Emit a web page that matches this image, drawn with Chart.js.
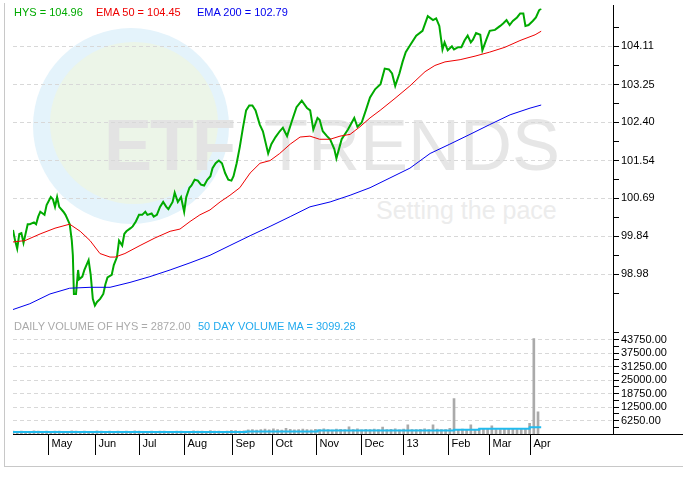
<!DOCTYPE html>
<html><head><meta charset="utf-8">
<script src="https://cdn.jsdelivr.net/npm/chart.js@4"></script>
<style>
body{margin:0;background:#fff;width:683px;height:482px;overflow:hidden;font-family:'Liberation Sans',Arial,sans-serif;}
.abs{position:absolute;}
.lg{position:absolute;font-size:11px;white-space:nowrap;}
</style></head><body>
<div class="abs" style="left:4px;top:3px;width:679px;height:463px;border-left:1px solid #c8c8c8;border-bottom:1px solid #c8c8c8;"></div>
<div class="abs" style="left:33px;top:28px;width:196px;height:196px;border-radius:50%;background:#e4f3fb;"></div>
<div class="abs" style="left:50px;top:42px;width:168px;height:162px;border-radius:50%;background:#ecf5e8;"></div>
<div class="abs" style="left:104px;top:104px;font-size:72px;font-weight:bold;color:#e3e3e3;letter-spacing:-2px;">ETF</div>
<div class="abs" style="left:264px;top:104px;font-size:72px;color:#e6e6e6;letter-spacing:0px;">TRENDS</div>
<div class="abs" style="left:376px;top:196px;font-size:25px;color:#ececec;">Setting the pace</div>
<canvas id="c1" class="abs" style="left:0;top:0;"></canvas>
<canvas id="c2" class="abs" style="left:0;top:318px;"></canvas>
<div class="abs" style="left:613px;top:5px;width:1px;height:429px;background:#000;"></div>
<div class="abs" style="left:13px;top:434px;width:670px;height:1px;background:#000;"></div>
<div class="lg" style="left:14px;top:6px;color:#00aa00;">HYS = 104.96</div>
<div class="lg" style="left:96px;top:6px;color:#ee0000;">EMA 50 = 104.45</div>
<div class="lg" style="left:197px;top:6px;color:#0000ee;">EMA 200 = 102.79</div>
<div class="lg" style="left:14px;top:320px;color:#aaaaaa;">DAILY VOLUME OF HYS = 2872.00</div>
<div class="lg" style="left:198px;top:320px;color:#22aaee;">50 DAY VOLUME MA = 3099.28</div>
<script>
// trading-day index and values
const hysDays=[0,1,2,3,4,5,7,8,10,11,12,13,15,16,18,19,20,21,22,24,25,27,28,28.5,29,30,31,31.5,33,34,36,37,38,39,40,41.5,43,44,45,47,48,49.5,50.5,52,53,54,56,57,58.5,60,61.5,63,64,66,67,68.5,70,71.5,73,74,76,77,78.5,80,81.5,82.5,84,85,86.5,88,89.5,91,92.5,94,95,96.5,98,99.5,101,102.5,104,105,106.5,108,109.5,111,112.5,114,115.5,117.5,119,121.5,123,125,127,128.5,130.5,133,135,137.5,140,141.5,143,145,146,147.5,149.5,151,153,154,156.5,159.5,162.5,164,166,168,170,172.5,175,177,179,180.5,182,184,185.5,187,189,192,195,197.5,200,201.5,203,204.5,205.5,207,209,210,212,213.5,215,216.5,218,219,220.5,222.5,223.5,225.5,227,229.5,232,233.5,235,236.5,238,240,241.5,243,244,245.5,247.5,249,250.5,251.5];
const hysVals=[99.98,99.74,99.56,99.89,99.91,99.69,100.11,100.11,100.15,100.11,100.28,100.39,100.32,100.54,100.72,100.67,100.50,100.72,100.50,100.39,100.32,100.11,99.74,99.41,98.54,98.54,99.08,98.87,98.93,99.08,99.30,98.97,98.43,98.28,98.36,98.43,98.54,98.76,98.91,98.97,99.19,99.37,99.74,99.63,99.89,99.95,100.02,100.06,100.17,100.32,100.32,100.39,100.32,100.35,100.28,100.32,100.50,100.61,100.50,100.45,100.61,100.82,100.61,100.72,100.39,100.72,100.93,100.98,101.11,101.09,101.00,100.98,101.11,101.19,101.37,101.48,101.54,101.48,101.26,101.11,101.09,101.19,101.48,101.85,102.28,102.67,102.78,102.78,102.67,102.35,102.20,101.70,101.91,102.07,102.20,102.28,102.09,102.46,102.74,102.89,102.72,102.67,102.24,102.50,102.46,102.20,102.09,102.02,101.80,101.59,102.02,102.24,102.50,102.30,102.39,102.67,102.96,103.15,103.26,103.61,103.59,103.50,103.22,103.50,103.76,103.98,104.13,104.35,104.46,104.79,104.70,104.74,104.57,104.04,104.20,104.02,104.11,104.04,104.09,104.09,104.24,104.35,104.20,104.26,104.41,104.37,104.02,104.28,104.46,104.48,104.57,104.63,104.70,104.59,104.68,104.76,104.85,104.85,104.57,104.59,104.68,104.76,104.92,104.96];
const ema50Days=[0,5.7,12.9,20,27,32,36.7,41.4,46.2,48.6,53.3,60.5,67.6,74.8,79.5,84.3,89,93.8,98.6,103.3,108,112.9,117.6,122.4,127,132,136.7,141.4,146,151,155.7,160.5,165.2,170,174.8,181.9,189,196.2,200.9,205.7,212.9,220,227,234.3,241.4,248.6,251.5];
const ema50Vals=[99.71,99.74,99.89,100.02,100.11,99.95,99.74,99.45,99.37,99.37,99.45,99.63,99.80,99.95,100.00,100.17,100.32,100.43,100.61,100.76,100.93,101.26,101.48,101.54,101.70,101.91,102.07,102.09,102.02,102.02,102.09,102.13,102.30,102.50,102.67,102.94,103.22,103.54,103.68,103.76,103.81,103.89,103.98,104.09,104.24,104.37,104.45];
const ema200Days=[0,8,17.6,27,36.7,46.2,55.7,65.2,74.8,84.3,93.8,103.3,112.9,122.4,132,141.4,151,160.5,170,179.5,189,198.6,208,217.6,227,236.7,246.2,251.5];
const ema200Vals=[98.19,98.32,98.54,98.67,98.69,98.69,98.80,98.93,99.08,99.24,99.41,99.63,99.85,100.06,100.28,100.50,100.61,100.76,100.93,101.15,101.37,101.70,101.91,102.13,102.35,102.57,102.72,102.79];
const priceTicks=[98.98,99.84,100.69,101.54,102.40,103.25,104.11];
const volTicks=[6250,12500,18750,25000,31250,37500,43750];
// volume every second trading day (0,2,...,250)
const volVals=[1300,1200,1400,1100,1250,1500,1300,1200,1350,1150,1400,1300,1200,1250,1450,1300,1100,1350,1250,1200,1500,1300,1250,1400,1200,1300,1150,1350,1250,1450,1300,1200,1250,1350,1200,1300,1400,1250,1150,1300,1350,1250,1200,1500,1300,1400,1250,1600,1350,1300,1250,1400,1700,1600,1300,1500,
1900,2100,1800,2000,2300,1900,2400,2100,1800,2600,2200,1900,2000,2300,2100,1900,2200,2000,2400,2100,1800,2300,2200,2000,3300,2100,2400,1900,2200,2000,2300,2100,3200,2000,2200,2400,1900,2300,4200,2100,2000,2200,2400,2100,4200,2300,2000,2100,2600,16400,2200,2300,2000,4200,2100,2400,2200,2300,3800,2000,2100,2200,2300,2400,2100,2500,2200,5000,44300,10300];
const volDays=volVals.map((v,i)=>i*2);
const maDays=[0,111,111.01,145,145.01,210,210.01,222,222.01,246,246.01,251.5];
const maVals=[900,900,1200,1200,1600,1600,2000,2000,2400,2400,3100,3100];
const monthLabels=['May','Jun','Jul','Aug','Sep','Oct','Nov','Dec','13','Feb','Mar','Apr'];
const monthDays=[16.7,39,60,81.4,104.3,123.3,144.3,165.7,185.7,207,226.7,246.2];

const pts=(d,v)=>d.map((x,i)=>({x:x,y:v[i]}));
const XMIN=0,XMAX=285.7;
Chart.defaults.font.family="'Liberation Sans',Arial,sans-serif";
Chart.defaults.font.size=11;
Chart.defaults.animation=false;
function withMinor(m){const r=[];for(let i=0;i<m.length;i++){r.push({value:m[i],major:true});if(i<m.length-1)r.push({value:(m[i]+m[i+1])/2});}
 r.unshift({value:m[0]-(m[1]-m[0])/2});r.push({value:m[m.length-1]+(m[1]-m[0])/2});return r;}
function yScale(min,max,major,fmt){return{position:'right',min:min,max:max,
 afterBuildTicks:s=>{s.ticks=withMinor(major).filter(t=>t.value>=min&&t.value<=max);},
 afterFit:s=>{s.width=70;},
 ticks:{color:'#000',padding:2,autoSkip:false,maxRotation:0,callback:(v)=>major.some(m=>Math.abs(m-v)<1e-6)?fmt(v):''},
 grid:{color:c=>(c.tick&&c.tick.major)?'#d8d8d8':'rgba(0,0,0,0)',tickColor:'#000',tickLength:6},
 border:{display:false,dash:[4,3]}};}
const c1=document.getElementById('c1');c1.width=683;c1.height=320;c1.style.width='683px';c1.style.height='320px';
new Chart(c1,{type:'line',data:{datasets:[
 {data:pts(ema200Days,ema200Vals),borderColor:'#0000ee',borderWidth:1,pointRadius:0},
 {data:pts(ema50Days,ema50Vals),borderColor:'#ee0000',borderWidth:1,pointRadius:0},
 {data:pts(hysDays,hysVals),borderColor:'#00aa00',borderWidth:2,pointRadius:0}]},
 options:{responsive:false,layout:{padding:{left:13,top:5,bottom:2,right:0}},plugins:{legend:{display:false},tooltip:{enabled:false}},
 scales:{x:{type:'linear',min:XMIN,max:XMAX,display:false},y:yScale(98.148,104.959,priceTicks,v=>v.toFixed(2))}}});
const monthPlugin={id:'months',afterDraw(ch){const ctx=ch.ctx,x=ch.scales.x,b=ch.chartArea.bottom;ctx.save();ctx.strokeStyle='#000';ctx.fillStyle='#000';ctx.lineWidth=1;ctx.font="11px 'Liberation Sans',Arial";ctx.textBaseline='middle';
 monthDays.forEach((d,i)=>{const px=Math.round(x.getPixelForValue(d))+0.5;ctx.beginPath();ctx.moveTo(px,b);ctx.lineTo(px,b+21);ctx.stroke();ctx.fillText(monthLabels[i],px+3,b+10);});ctx.restore();}};
const c2=document.getElementById('c2');c2.width=683;c2.height=150;c2.style.width='683px';c2.style.height='150px';
new Chart(c2,{type:'bar',data:{datasets:[
 {type:'line',data:pts(maDays,maVals),borderColor:'#22bbee',borderWidth:2,pointRadius:0,order:0},
 {type:'bar',data:pts(volDays,volVals),backgroundColor:'#aaaaaa',barThickness:2,order:1}]},
 options:{responsive:false,layout:{padding:{left:13,top:2,bottom:34,right:0}},plugins:{legend:{display:false},tooltip:{enabled:false}},
 scales:{x:{type:'linear',min:XMIN,max:XMAX,display:false,offset:false},y:yScale(0,49800,volTicks,v=>v.toFixed(2))}},plugins:[monthPlugin]});
</script></body></html>
